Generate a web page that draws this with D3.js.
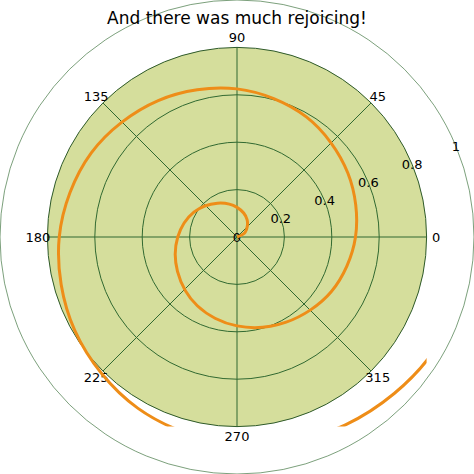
<!DOCTYPE html>
<html>
<head>
<meta charset="utf-8">
<script src="https://cdn.jsdelivr.net/npm/d3@7/dist/d3.min.js"></script>
<style>
  html, body { margin: 0; padding: 0; background: #fff; }
  svg text { font-family: "DejaVu Sans", sans-serif; fill: #000; }
</style>
</head>
<body>
<svg id="chart" width="474" height="474"></svg>
<script>
// polar spiral, matplotlib style

const title = 'And there was much rejoicing!';
const angleTicks = [0, 45, 90, 135, 180, 225, 270, 315];
const radialTicks = [0.2, 0.4, 0.6, 0.8, 1];
const radialLabels = ['0.2', '0.4', '0.6', '0.8', '1'];
const gridRadii = [0.2, 0.4, 0.6];
const axisMax = 0.8;

// spiral: angle in degrees, radius
const spiralAngle = [0, 30, 60, 90, 120, 150, 180, 210, 240, 270, 300, 330,
  360, 390, 420, 450, 480, 510, 540, 570, 600, 630, 660, 690, 720];
const spiralRadius = [0, 0.04, 0.085, 0.125, 0.165, 0.21, 0.25, 0.29, 0.335, 0.375, 0.415, 0.46,
  0.5, 0.54, 0.585, 0.625, 0.665, 0.71, 0.75, 0.79, 0.835, 0.875, 0.915, 0.96, 1.0];

const cx = 237, cy = 237;
const r = d3.scaleLinear().domain([0, 1]).range([0, 237]);
const toRad = deg => (90 - deg) * Math.PI / 180;   // d3 radial: 0 at top, clockwise
const px = (deg, v) => r(v) * Math.cos(deg * Math.PI / 180);
const py = (deg, v) => -r(v) * Math.sin(deg * Math.PI / 180);

const svg = d3.select('#chart');
const g = svg.append('g').attr('transform', `translate(${cx},${cy})`);

const edge = r(axisMax);
svg.append('defs').append('clipPath').attr('id', 'axclip')
  .append('rect')
  .attr('x', -edge).attr('y', -edge)
  .attr('width', edge * 2).attr('height', edge * 2);

// outer circle at r = 1
g.append('circle')
  .attr('r', r(1))
  .attr('fill', 'none')
  .attr('stroke', '#316931')
  .attr('stroke-opacity', 0.8)
  .attr('stroke-width', 0.8);

// axes background
g.append('circle')
  .attr('r', edge)
  .attr('fill', '#d5de9c');

// radial grid
g.selectAll('.spoke')
  .data(angleTicks)
  .join('line')
  .attr('class', 'spoke')
  .attr('x1', 0).attr('y1', 0)
  .attr('x2', d => px(d, axisMax))
  .attr('y2', d => py(d, axisMax))
  .attr('stroke', '#316931')
  .attr('stroke-width', 1);

g.selectAll('.ring')
  .data(gridRadii)
  .join('circle')
  .attr('class', 'ring')
  .attr('r', d => r(d))
  .attr('fill', 'none')
  .attr('stroke', '#316931')
  .attr('stroke-width', 1);

// spine
g.append('circle')
  .attr('r', edge)
  .attr('fill', 'none')
  .attr('stroke', '#2e5a2a')
  .attr('stroke-width', 1);

// angle labels
g.selectAll('.theta-label')
  .data(angleTicks)
  .join('text')
  .attr('class', 'theta-label')
  .attr('x', d => px(d, 0.84))
  .attr('y', d => py(d, 0.84))
  .attr('text-anchor', 'middle')
  .attr('dominant-baseline', 'central')
  .attr('font-size', 13)
  .text(d => d);

// radial labels along 22.5 deg
g.selectAll('.r-label')
  .data(radialTicks)
  .join('text')
  .attr('class', 'r-label')
  .attr('x', d => px(22.5, d))
  .attr('y', d => py(22.5, d))
  .attr('text-anchor', 'middle')
  .attr('dominant-baseline', 'central')
  .attr('font-size', 13)
  .text((d, i) => radialLabels[i]);

g.append('text')
  .attr('x', 0).attr('y', 0)
  .attr('text-anchor', 'middle')
  .attr('dominant-baseline', 'central')
  .attr('font-size', 13)
  .text('0');

// spiral
const spiral = spiralAngle.map((a, i) => ({ a, v: spiralRadius[i] }));
const line = d3.lineRadial()
  .angle(d => toRad(d.a))
  .radius(d => r(d.v))
  .curve(d3.curveCatmullRom);

g.append('path')
  .datum(spiral)
  .attr('clip-path', 'url(#axclip)')
  .attr('d', line)
  .attr('fill', 'none')
  .attr('stroke', '#ee8d18')
  .attr('stroke-width', 3);

svg.append('text')
  .attr('x', cx)
  .attr('y', 24)
  .attr('text-anchor', 'middle')
  .attr('font-size', 17)
  .text(title);
</script>
</body>
</html>
